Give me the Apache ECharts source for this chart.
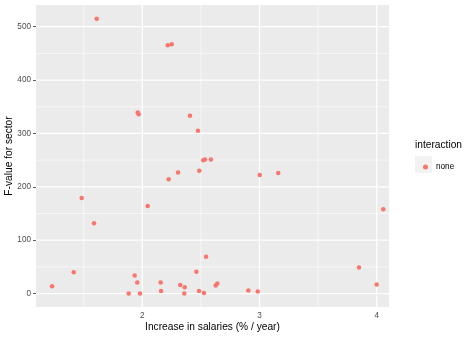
<!DOCTYPE html>
<html><head><meta charset="utf-8">
<script src="https://cdn.jsdelivr.net/npm/echarts@6/dist/echarts.min.js"></script>
<style>html,body{margin:0;padding:0;background:#fff}#c{width:474px;height:338px}</style>
</head><body><div id="c"></div>
<script>
// Data
var salaryIncrease = [1.230,1.415,1.483,1.588,1.611,1.884,1.935,1.957,1.961,1.969,1.980,2.046,2.157,2.160,2.217,2.225,2.251,2.305,2.324,2.358,2.362,2.407,2.461,2.475,2.484,2.486,2.520,2.535,2.526,2.544,2.586,2.626,2.640,2.905,2.985,3.002,3.160,3.849,4.000,4.056];
var fValue = [14,40,179,132,515,0,34,21,339,336,0,164,21,5,465,214,467,227,16,0,12,333,41,305,5,230,250,251,1,69,251,15,19,6,4,222,226,49,17,158];
var interaction = 'none';
var xTicks = [2,3,4];
var xMinor = [1.5,2.5,3.5];
var yTicks = [0,100,200,300,400,500];
var yMinor = [50,150,250,350,450];

var pts = salaryIncrease.map(function(x,i){return [x,fValue[i]];});
var font = 'Liberation Sans, Arial, sans-serif';
// grid line records: [axis (0=x,1=y), value, major flag]
var gridLines = [].concat(
  xMinor.map(function(v){return [0,v,0];}), yMinor.map(function(v){return [1,v,0];}),
  xTicks.map(function(v){return [0,v,1];}), yTicks.map(function(v){return [1,v,1];}));

var X0=1.093, X1=4.105, Y0=-25.1, Y1=540.6;

var chart = echarts.init(document.getElementById('c'),null,{renderer:'canvas'});
chart.setOption({
  animation:false,
  backgroundColor:'#FFFFFF',
  grid:{left:36,top:5,width:353,height:302,show:true,backgroundColor:'#EBEBEB',borderWidth:0,containLabel:false,outerBoundsMode:'none'},
  xAxis:{type:'value',min:X0,max:X1,
    name:'Increase in salaries (% / year)',nameLocation:'middle',nameGap:15,nameMoveOverlap:false,
    nameTextStyle:{color:'#000',fontSize:10.2,fontFamily:font,verticalAlign:'top'},
    axisLine:{show:false},splitLine:{show:false},
    axisTick:{show:true,customValues:xTicks,length:3,lineStyle:{color:'#333333',width:0.8}},
    axisLabel:{customValues:xTicks,color:'#4D4D4D',fontSize:8.2,fontFamily:font,margin:5}},
  yAxis:{type:'value',min:Y0,max:Y1,
    name:'F-value for sector',nameLocation:'middle',nameGap:22,nameRotate:90,nameMoveOverlap:false,
    nameTextStyle:{color:'#000',fontSize:10.2,fontFamily:font},
    axisLine:{show:false},splitLine:{show:false},
    axisTick:{show:true,customValues:yTicks,length:3,lineStyle:{color:'#333333',width:0.8}},
    axisLabel:{customValues:yTicks,color:'#4D4D4D',fontSize:8.2,fontFamily:font,margin:5}},
  legend:{show:true,orient:'vertical',left:418,top:158,itemWidth:5,itemHeight:5,itemGap:4,
    icon:'circle',textStyle:{color:'#000',fontSize:8.2,fontFamily:font,padding:[0,0,0,3]},
    data:[interaction]},
  graphic:[
    {type:'rect',left:415,top:156,shape:{width:17,height:17},style:{fill:'#F2F2F2'},z:-1},
    {type:'text',left:415,top:140,style:{text:'interaction',fill:'#000',font:'10.2px '+font}}
  ],
  series:[
    {type:'custom',silent:true,z:1,data:gridLines,
     renderItem:function(params,api){
       var ax=api.value(0), v=api.value(1), major=api.value(2);
       var p1,p2;
       if(ax===0){p1=api.coord([v,Y0]);p2=api.coord([v,Y1]);}
       else {p1=api.coord([X0,v]);p2=api.coord([X1,v]);}
       return {type:'line',shape:{x1:p1[0],y1:p1[1],x2:p2[0],y2:p2[1]},
         style:{stroke:'#FFFFFF',lineWidth:major?1.2:0.6}};
     },
     encode:{x:-1,y:-1}},
    {type:'scatter',name:interaction,data:pts,symbolSize:4.5,z:3,
     itemStyle:{color:'#F8766D',opacity:1}}
  ]
});
</script></body></html>
